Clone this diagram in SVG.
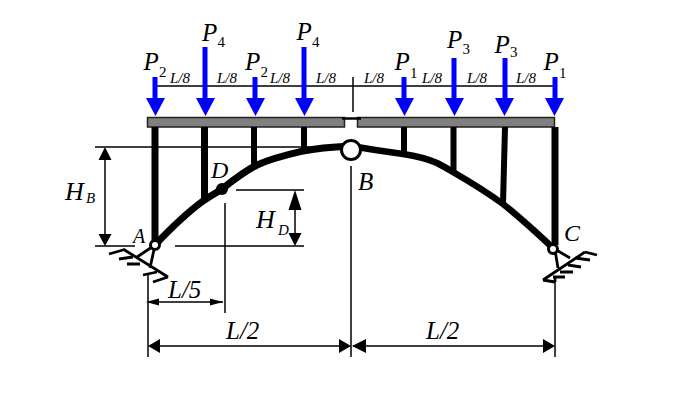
<svg xmlns="http://www.w3.org/2000/svg" width="697" height="408" viewBox="0 0 697 408">
<style>
text{font-family:"Liberation Serif","Times New Roman",serif;fill:#000}
.p{font-size:25px;font-style:italic}
.s{font-size:15px}
.l8{font-size:15px;font-style:italic}
.d{font-size:25px;font-style:italic}
.h{font-size:26px;font-style:italic}
.hs{font-size:15px;font-style:italic}
.thin{stroke:#000;stroke-width:1.500;fill:none}
.col{stroke:#000;fill:none}
.load{stroke:#0000ff;stroke-width:5;fill:none}
.head{fill:#0000ff}
.ah{fill:#000}
.sup{stroke:#000;stroke-width:2.800;fill:none}
</style>
<g id="connectors">
<path class="thin" d="M95 147H350M95 246H135M175 246H304M236 190H304M225 203V313M351 166V357M148 275V357M555 280V357M154 86H555M353 77V112"/>
<path class="thin" d="M105 150V243M295 193V243M148 302H223M150 346H349M353 346H553"/>
<path class="ah" d="M105 147l-6.500 13h13zM105 246l-6.500-12h13zM295 190l-6.500 20h13zM295 246l-6.500-13h13zM146 302l13-3.500v7zM223 302l-13-3.500v7zM148 346l12-7v14zM351 346l-12-7v14zM352 346l14-7v14zM555 346l-12-7v14z"/>
</g>
<g id="deck">
<rect x="147.500" y="117.500" width="197" height="9.500" fill="#808080" stroke="#222" stroke-width="1.500"/>
<rect x="357.500" y="117.500" width="197" height="9.500" fill="#808080" stroke="#222" stroke-width="1.500"/>
<path d="M342 118.500H361" stroke="#000" stroke-width="2.500" fill="none"/>
</g>
<g id="columns">
<path class="col" stroke-width="7" d="M155 127V245M555 127V245"/>
<path class="col" stroke-width="7" d="M204.500 127V202"/>
<path class="col" stroke-width="6" d="M254 127V166M304 127V152M404 127V154M453.500 127V172M505 127L503 204"/>
</g>
<g id="arch">
<path fill="none" stroke="#000" stroke-width="7" d="M155 245C173 226 188 212 203 201C210 196 216 193 222 189C232 181 245 171 257 165C272 158 290 154 303 151C318 148 332 147 351 146"/>
<path fill="none" stroke="#000" stroke-width="6.500" d="M351 146C368 149 388 152 403 154C416 156 428 159 437 163C443 166 448 169 453 172C472 183 488 193 503 204C522 219 538 234 553 248"/>
</g>
<g id="loads">
<path class="load" d="M155 77V100M205 47V100M255 77V100M304 47V100M404 77V100M454 58V100M505 58V100M555 77V100"/>
<path class="head" d="M146 98h19l-9.500 18zM196 98h19l-9.500 18zM246 98h19l-9.500 18zM295 98h19l-9.500 18zM395 98h19l-9.500 18zM445 98h19l-9.500 18zM495 98h19l-9.500 18zM545 98h19l-9.500 18z"/>
</g>
<g id="support-a">
<path class="sup" d="M123 249L168 277M123 250L109 254M133 257L119 259M140 264L127 264M157 272L143 275M168 277L153 282M155 245L137 257M155 245L150 268"/>
</g>
<g id="support-c">
<path class="sup" d="M585 252L543 280M585 252L597 255M575 258L590 260M568 265L581 267M560 272L573 272M553 277L565 277M543 280L555 282M553 248L570 258M555 250L558 268M555 276V282"/>
</g>
<g id="node-a"><circle cx="155" cy="245" r="4.500" fill="#fff" stroke="#000" stroke-width="3"/><text class="p" x="133" y="243" style="font-size:20px">A</text></g>
<g id="node-b"><circle cx="351" cy="150" r="9.500" fill="#fff" stroke="#000" stroke-width="3"/><text class="p" x="358" y="190" style="font-size:25px">B</text></g>
<g id="node-c"><circle cx="553" cy="249" r="4.500" fill="#fff" stroke="#000" stroke-width="3"/><text class="p" x="564" y="241" style="font-size:24px">C</text></g>
<g id="node-d"><circle cx="222" cy="189" r="6" fill="#000"/><text class="p" x="211" y="178" style="font-size:24px">D</text></g>
<g id="labels">
<text class="p" x="143.500" y="70">P</text><text class="s" x="159" y="77">2</text>
<text class="p" x="202" y="41">P</text><text class="s" x="217.500" y="47">4</text>
<text class="p" x="245" y="70">P</text><text class="s" x="260.500" y="77">2</text>
<text class="p" x="296.500" y="40">P</text><text class="s" x="312" y="47">4</text>
<text class="p" x="394.500" y="70">P</text><text class="s" x="410" y="78">1</text>
<text class="p" x="447" y="48">P</text><text class="s" x="462.500" y="54">3</text>
<text class="p" x="494.500" y="53">P</text><text class="s" x="510" y="57">3</text>
<text class="p" x="543.500" y="70">P</text><text class="s" x="559" y="78">1</text>
<text class="l8" x="170" y="83">L/8</text><text class="l8" x="217" y="83">L/8</text><text class="l8" x="270" y="83">L/8</text><text class="l8" x="316" y="83">L/8</text>
<text class="l8" x="364" y="83">L/8</text><text class="l8" x="422" y="83">L/8</text><text class="l8" x="467" y="83">L/8</text><text class="l8" x="516" y="83">L/8</text>
<text class="h" x="65" y="200">H</text><text class="hs" x="86" y="203">B</text>
<text class="h" x="256" y="228">H</text><text class="hs" x="278" y="235">D</text>
<text class="d" x="168" y="298">L/5</text>
<text class="d" x="226" y="339">L/2</text>
<text class="d" x="426" y="339">L/2</text>
</g>
</svg>
